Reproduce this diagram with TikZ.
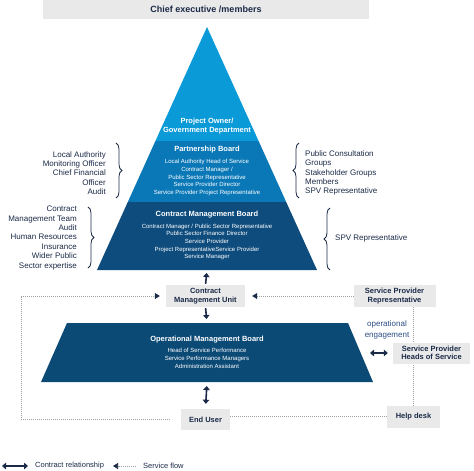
\documentclass[tikz,border=0pt]{standalone}
\usepackage{fontspec}
\setmainfont{Liberation Sans}
\usepackage{tikz}
\usetikzlibrary{arrows.meta}
\usetikzlibrary{decorations.pathreplacing}
\usetikzlibrary{backgrounds}

\definecolor{ownerblue}{HTML}{0A9AD7}
\definecolor{partblue}{HTML}{0A78B7}
\definecolor{cmbblue}{HTML}{0E4C7D}
\definecolor{ombblue}{HTML}{0C4A76}
\definecolor{navy}{HTML}{1B2A47}
\definecolor{engblue}{HTML}{2B4C85}
\definecolor{boxgrey}{HTML}{E9E9EA}

\begin{document}
\begin{tikzpicture}[x=1pt, y=-1pt,
    greybox/.style={fill=boxgrey, text=navy, font=\bfseries\fontsize{7.5}{8.5}\selectfont, align=center, inner sep=0pt},
    boardtitle/.style={text=white, font=\bfseries\fontsize{7.5}{9}\selectfont, align=center, inner sep=0pt},
    boardtext/.style={text=white, font=\fontsize{6}{7.7}\selectfont, align=center, inner sep=0pt},
    sidetext/.style={text=navy, font=\fontsize{8}{9.4}\selectfont, inner sep=0pt},
    legendtext/.style={text=navy, font=\fontsize{7.5}{8}\selectfont, inner sep=0pt},
    sidebrace/.style={draw=navy, line width=0.8pt, decorate, decoration={brace, amplitude=6pt}},
    contract/.style={draw=navy, line width=1.6pt, {Triangle[length=4pt, width=6.5pt]}-{Triangle[length=4pt, width=6.5pt]}},
    contracthead/.style={draw=navy, line width=1.6pt, -{Triangle[length=4pt, width=6.5pt]}},
    flow/.style={draw=gray!75, line width=0.7pt, dash pattern=on 0.8pt off 1.2pt},
    flowhead/.style={flow, -{Triangle[length=5pt, width=6pt, color=navy]}},
]

    \useasboundingbox (0, 0) rectangle (474, 471);

    % Declare the top bar
    \node[fill=boxgrey, text=navy, font=\bfseries\fontsize{9}{10}\selectfont, minimum width=326pt, minimum height=19pt, inner sep=0pt] at (206, 9.5) (chief) {Chief executive /members};

    % Declare the pyramid layers
    \fill[ownerblue] (207, 27) -- (258.6, 141) -- (155.4, 141) -- cycle;
    \fill[partblue] (155.4, 141) -- (258.6, 141) -- (286.2, 202) -- (127.8, 202) -- cycle;
    \fill[cmbblue] (127.8, 202) -- (286.2, 202) -- (317, 270) -- (97, 270) -- cycle;
    \fill[ombblue] (67, 323) -- (348, 323) -- (373, 382) -- (41, 382) -- cycle;

    \coordinate (cmbbase) at (207, 270);
    \coordinate (ombtop) at (207, 323);
    \coordinate (ombbase) at (207, 382);
    \coordinate (ombside) at (361, 353);

    % Declare the board texts
    \node[boardtitle] at (207, 126.5) (owner) {Project Owner/\\Government Department};
    \node[boardtitle] at (207, 150) (pbtitle) {Partnership Board};
    \node[boardtext] at (207, 177.5) (pbtext) {Local Authority Head of Service\\Contract Manager /\\Public Sector Representative\\Service Provider Director\\Service Provider Project Representative};
    \node[boardtitle] at (207, 215) (cmbtitle) {Contract Management Board};
    \node[boardtext] at (207, 242) (cmbtext) {Contract Manager / Public Sector Representative\\Public Sector Finance Director\\Service Provider\\Project RepresentativeService Provider\\Service Manager};
    \node[boardtitle] at (207, 340) (ombtitle) {Operational Management Board};
    \node[boardtext] at (207, 358.5) (ombtext) {Head of Service Performance\\Service Performance Managers\\Administration Assistant};

    % Declare the side groups
    \draw[sidebrace] (116, 143) -- (116, 198);
    \node[sidetext, anchor=east, align=right] at (106, 173) (laside) {Local Authority\\Monitoring Officer\\Chief Financial\\Officer\\Audit};
    \draw[sidebrace] (88, 207) -- (88, 268);
    \node[sidetext, anchor=east, align=right] at (77, 238) (cmtside) {Contract\\Management Team\\Audit\\Human Resources\\Insurance\\Wider Public\\Sector expertise};
    \draw[sidebrace] (299, 198) -- (299, 143);
    \node[sidetext, anchor=west, align=left] at (305, 173) (pubside) {Public Consultation\\Groups\\Stakeholder Groups\\Members\\SPV Representative};
    \draw[sidebrace] (330, 270) -- (330, 208);
    \node[sidetext, anchor=west] at (335, 238) (spvside) {SPV Representative};

    % Declare the boxes
    \node[greybox, minimum width=79pt, minimum height=22pt] at (205.5, 296) (cmu) {Contract\\Management Unit};
    \node[greybox, minimum width=82pt, minimum height=22pt] at (394.5, 296) (spr) {Service Provider\\Representative};
    \node[greybox, minimum width=77pt, minimum height=21pt] at (431.5, 353) (sphos) {Service Provider\\Heads of Service};
    \node[greybox, minimum width=49pt, minimum height=21pt] at (205.5, 419.5) (enduser) {End User};
    \node[greybox, minimum width=53pt, minimum height=22pt] at (413.5, 416.5) (helpdesk) {Help desk};
    \node[text=engblue, font=\fontsize{8}{11}\selectfont, align=center, inner sep=0pt] at (387, 329.5) (engage) {operational\\engagement};

    % Declare contract edges
    \draw[contracthead, shorten <=1pt, shorten >=3pt] (cmu.north) -- (cmbbase);
    \draw[contracthead, shorten <=1pt, shorten >=4pt] (cmu.south) -- (ombtop);
    \draw[contract, shorten <=4pt, shorten >=5pt] (ombbase) -- (enduser.north);
    \draw[contract, shorten <=9pt, shorten >=5pt] (ombside) -- (sphos.west);

    % Declare service flow edges
    \coordinate (loopbottom) at (21, 419);
    \coordinate (looptop) at (21, 296);
    \begin{scope}[on background layer]
        \draw[flowhead, shorten >=7pt] (spr.west) -- (cmu.east);
        \draw[flowhead, shorten <=11pt, shorten >=6pt] (enduser.west |- loopbottom) -- (loopbottom) -- (looptop) -- (cmu.west);
        \draw[flow] (helpdesk.west) -- (helpdesk.west -| enduser.east);
        \draw[flow] (spr.south -| helpdesk.north) -- (helpdesk.north);
    \end{scope}

    % Declare the legend
    \coordinate (contractA) at (2, 466);
    \coordinate (contractB) at (28, 466);
    \draw[contract, line width=2pt] (contractA) -- (contractB);
    \node[legendtext, anchor=west] at (35, 466) (contractlabel) {Contract relationship};
    \coordinate (flowA) at (136, 466);
    \coordinate (flowB) at (113, 466);
    \draw[flowhead] (flowA) -- (flowB);
    \node[legendtext, anchor=west] at (143, 466) (flowlabel) {Service flow};

\end{tikzpicture}
\end{document}
